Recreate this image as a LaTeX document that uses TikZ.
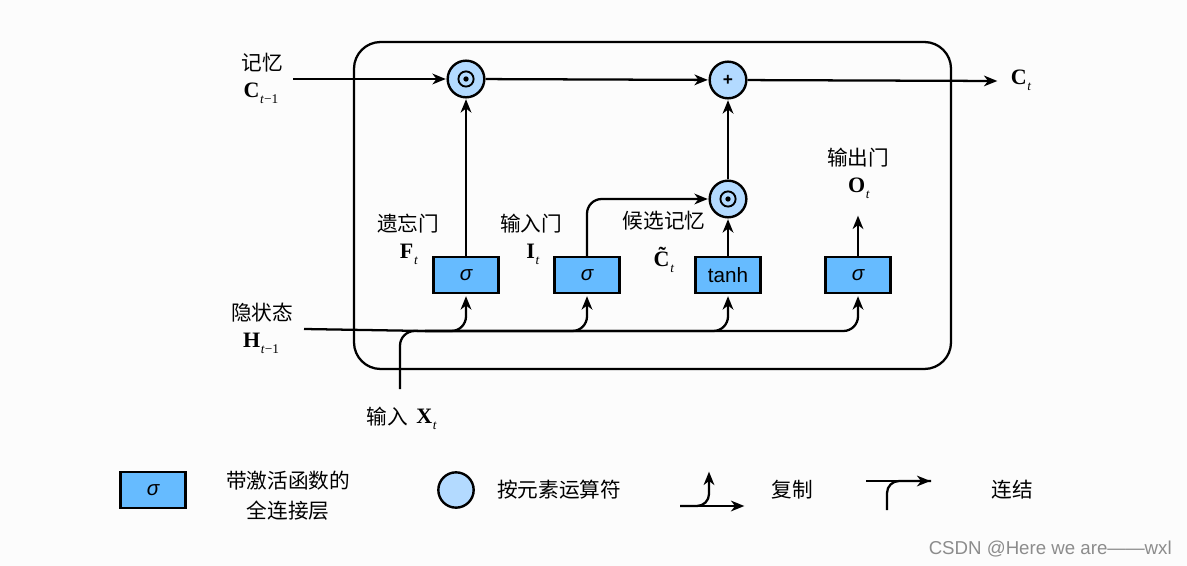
\documentclass[tikz,border=0pt]{standalone}
\usepackage{fontspec}
\setmainfont{Liberation Serif}
\newfontfamily\cjkfont{Noto Sans CJK SC}
\newfontfamily\sansfont{Liberation Sans}
\usetikzlibrary{arrows.meta}
\definecolor{paper}{HTML}{FCFCFC}
\definecolor{layerblue}{HTML}{66BBFF}
\definecolor{opblue}{HTML}{B3DAFF}
\newcommand{\vecsub}[2]{{\fontsize{16.5}{16.5}\selectfont\bfseries #1}\kern0.5pt\raisebox{-4.5pt}{\fontsize{10}{10}\selectfont #2}}
\begin{document}
\begin{tikzpicture}[
x=0.75pt,y=-0.75pt,
layer/.style={rectangle,draw=black,fill=layerblue,line width=1.8pt,inner sep=0pt,minimum width=48.5pt,minimum height=27pt,font=\sansfont\fontsize{15.5}{15.5}\selectfont},
op/.style={circle,draw=black,fill=opblue,line width=1.8pt,inner sep=0pt,minimum size=27.5pt,font=\sansfont\bfseries\fontsize{13}{13}\selectfont},
flow/.style={line width=1.7pt,-{Stealth[length=10pt,width=8pt,inset=3pt]},shorten >=0.5pt},
plainflow/.style={line width=1.7pt},
cjk/.style={inner sep=0pt,align=center,font=\cjkfont\fontsize{15.5}{22.5}\selectfont},
symb/.style={inner sep=0pt,align=center}
]

% Paper and frame
\fill [paper] (0,0) rectangle (1187,566);
\useasboundingbox (0,0) rectangle (1187,566);
\draw [line width=1.7pt,rounded corners=20pt] (354,42) rectangle (951,369);

% Draw layers
\node [layer] (forget) at (466,275) {\itshape σ};
\node [layer] (input) at (587,275) {\itshape σ};
\node [layer] (cand) at (728,275) {tanh};
\node [layer] (output) at (858,275) {\itshape σ};

% Draw operators
\node [op] (mulc) at (466,79) {};
\node [op] (plus) at (728,80) {+};
\node [op] (muli) at (728,199) {};
\foreach \n in {mulc,muli}{
  \draw [line width=1.4pt] (\n) circle (5.7pt);
  \fill (\n) circle (2pt);
}

% Free ends of the connectors
\coordinate (cin) at (293,79);
\coordinate (cout) at (998,81);
\coordinate (hin) at (304,329);
\coordinate (hbus) at (425,331);
\coordinate (xin) at (400,389);
\coordinate (oout) at (858,215);

% Cell state and gates
\draw [flow] (cin) -- (mulc);
\draw [flow] (mulc) -- (plus);
\draw [flow] (plus) -- (cout);
\draw [flow] (forget) -- (mulc);
\draw [flow] (cand) -- (muli);
\draw [flow] (muli) -- (plus);
\draw [flow] (output) -- (oout);
\draw [flow,rounded corners=11pt] (input.north) |- (muli.west);

% Hidden state and input bus
\draw [plainflow] (hin) -- (hbus);
\draw [plainflow,rounded corners=11pt] (xin) |- (hbus);
\foreach \n in {forget,input,cand,output}{
  \draw [flow,rounded corners=11pt,shorten >=1.5pt] (hbus) -| (\n.south);
}

% Labels
\node [cjk] (lmem) at (262,63) {记忆};
\node [symb] (lcold) at (261,93) {\vecsub{C}{\textit{t}−1}};
\node [symb] (lcnew) at (1021,80) {\vecsub{C}{\textit{t}}};
\node [cjk] (lforget) at (408,224) {遗忘门};
\node [symb] (lf) at (409,254) {\vecsub{F}{\textit{t}}};
\node [cjk] (linput) at (531,224) {输入门};
\node [symb] (li) at (533,254) {\vecsub{I}{\textit{t}}};
\node [cjk] (lcand) at (664,221) {候选记忆};
\node [symb] (lc) at (664,260) {\vecsub{\~{C}}{\textit{t}}};
\node [cjk] (loutput) at (858,158) {输出门};
\node [symb] (lo) at (859,188) {\vecsub{O}{\textit{t}}};
\node [cjk] (lhid) at (262,313) {隐状态};
\node [symb] (lh) at (261,343) {\vecsub{H}{\textit{t}−1}};
\node [cjk,anchor=east] (lx) at (408,417) {输入};
\node [symb,anchor=west] (lxs) at (416,419) {\vecsub{X}{\textit{t}}};

% Legend
\node [layer] (keylayer) at (153,490) {\itshape σ};
\node [cjk] (keylayertxt) at (288,496) {带激活函数的\\全连接层};
\node [op,minimum size=26.5pt] (keyop) at (456,490) {};
\node [cjk] (keyoptxt) at (559,490) {按元素运算符};

\coordinate (copya) at (680,506);
\coordinate (copyb) at (745,506);
\coordinate (copyc) at (709,471);
\draw [flow] (copya) -- (copyb);
\draw [flow,rounded corners=9pt] (copya) -| (copyc);
\node [cjk] (keycopy) at (792,490) {复制};

\coordinate (joina) at (866,481);
\coordinate (joinb) at (931,481);
\coordinate (joinc) at (887,510);
\draw [flow] (joina) -- (joinb);
\draw [plainflow,rounded corners=9pt] (joinc) |- (joinb);
\node [cjk] (keyjoin) at (1012,490) {连结};

% Watermark
\node [inner sep=0pt,text=black!45,font=\sansfont\fontsize{14}{14}\selectfont,anchor=east] (mark) at (1172,549) {CSDN @Here we are——wxl};

\end{tikzpicture}
\end{document}
